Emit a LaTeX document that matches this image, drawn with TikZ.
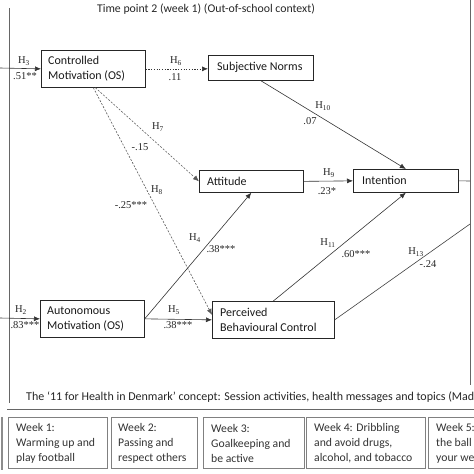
\documentclass[tikz,border=0pt]{standalone}
\usepackage{fontspec}
\setmainfont{Carlito}
\newfontfamily\tnr{Liberation Serif}
\usetikzlibrary{arrows.meta,calc}
\begin{document}
\begin{tikzpicture}[x=1pt,y=-1pt,
 bx/.style={draw=black!85, line width=0.7pt, anchor=north west, inner sep=0pt},
 wk/.style={draw=black!50, line width=1.1pt, anchor=north west, inner sep=0pt, minimum height=51pt},
 txt/.style={anchor=west, align=left, inner sep=0pt, text=black!90, font=\fontsize{12}{15}\selectfont},
 wtxt/.style={anchor=west, align=left, inner sep=0pt, text=black!80, font=\fontsize{11.7}{15}\selectfont},
 arr/.style={draw=black!80, line width=0.6pt, -{Latex[length=6pt,width=5pt]}},
 dotarr/.style={arr, dash pattern=on 1.2pt off 1.5pt},
 dasharr/.style={arr, draw=black!65, dash pattern=on 2pt off 1.5pt},
 plain/.style={draw=black!75, line width=0.6pt},
 lab/.style={font=\tnr\fontsize{10.5}{12}\selectfont, text=black!85, inner sep=0pt},
 frame/.style={draw=black!60, line width=0.7pt}]

\useasboundingbox (0,0) rectangle (474,474);
\clip (0,0) rectangle (474,474);

% title
\node[font=\fontsize{11.8}{14}\selectfont, text=black!85, inner sep=0pt] (title) at (206,9) {Time point 2 (week 1) (Out-of-school context)};

% frame lines
\draw[frame] (9,8) -- (9,403);
\draw[frame] (470,0) -- (470,385);
\draw[frame] (7,409) -- (474,409);
\draw[draw=black!45, line width=1.1pt] (2,417) -- (2,470);

% model boxes
\node[bx, minimum width=104pt, minimum height=37pt] (CM) at (41,50) {};
\node[txt] (CMt) at ($(CM.west)+(7,0)$) {Controlled\\Motivation (OS)};
\node[bx, minimum width=105pt, minimum height=25pt] (SN) at (208,55) {};
\node[txt] (SNt) at ($(SN.west)+(9,0)$) {Subjective Norms};
\node[bx, minimum width=104pt, minimum height=22pt] (AT) at (199,170) {};
\node[txt] (ATt) at ($(AT.west)+(8,0)$) {Attitude};
\node[bx, minimum width=105pt, minimum height=23pt] (IN) at (353,169) {};
\node[txt] (INt) at ($(IN.west)+(9,0)$) {Intention};
\node[bx, minimum width=104pt, minimum height=37pt] (AM) at (40,300) {};
\node[txt] (AMt) at ($(AM.west)+(7,0)$) {Autonomous\\Motivation (OS)};
\node[bx, minimum width=122pt, minimum height=37pt] (PBC) at (212,301) {};
\node[txt] (PBCt) at ($(PBC.west)+(8,0)$) {Perceived\\Behavioural Control};

% connectors
\coordinate (inH3) at (0,68);
\coordinate (inH2) at (0,318);
\coordinate (outI) at (470,181);
\coordinate (outP) at (470,224);
\draw[arr] (inH3) -- (CM.west);
\draw[arr] (inH2) -- (AM.west);
\draw[dotarr] (CM.east) -- (CM.east -| SN.west);
\draw[arr] (SN.south) -- (IN.north);
\draw[dasharr] ($(CM.south)+(2,0)$) -- (AT.west);
\draw[dasharr] (CM.south) -- ($(PBC.west)+(0,-5)$);
\draw[arr] (AT.east) -- (IN.west);
\draw[plain] (IN.east) -- (outI);
\draw[arr] (AM.east) -- (AT.south);
\draw[arr] (AM.east) -- (PBC.west);
\draw[arr] (PBC.north) -- (IN.south);
\draw[plain] (PBC.east) -- (outP);

% labels
\node[lab] (lH3) at (24,61) {H\textsubscript{3}};
\node[lab] (vH3) at (25,76) {.51**};
\node[lab] (lH2) at (21,310) {H\textsubscript{2}};
\node[lab] (vH2) at (25,325) {.83***};
\node[lab] (lH6) at (176,61) {H\textsubscript{6}};
\node[lab] (vH6) at (175,77) {.11};
\node[lab] (lH10) at (323,106) {H\textsubscript{10}};
\node[lab] (vH10) at (310,121) {.07};
\node[lab] (lH7) at (158,127) {H\textsubscript{7}};
\node[lab] (vH7) at (140,147) {-.15};
\node[lab] (lH8) at (157,190) {H\textsubscript{8}};
\node[lab] (vH8) at (131,205) {-.25***};
\node[lab] (lH9) at (329,173) {H\textsubscript{9}};
\node[lab] (vH9) at (327,191) {.23*};
\node[lab] (lH4) at (195,238) {H\textsubscript{4}};
\node[lab] (vH4) at (221,249) {.38***};
\node[lab] (lH5) at (174,310) {H\textsubscript{5}};
\node[lab] (vH5) at (178,325) {.38***};
\node[lab] (lH11) at (328,243) {H\textsubscript{11}};
\node[lab] (vH11) at (356,254) {.60***};
\node[lab] (lH13) at (416,252) {H\textsubscript{13}};
\node[lab] (vH13) at (428,264) {-.24};

% bottom section
\node[anchor=west, inner sep=0pt, text=black!85, font=\fontsize{12}{14}\selectfont] (cap) at (26,397) {The ‘11 for Health in Denmark’ concept: Session activities, health messages and topics (Mad};

\node[wk, minimum width=99pt] (W1) at (8,417) {};
\node[wtxt] (W1t) at ($(W1.west)+(8,0)$) {Week 1:\\Warming up and\\play football};
\node[wk, minimum width=86pt] (W2) at (111,417) {};
\node[wtxt] (W2t) at ($(W2.west)+(7,0)$) {Week 2:\\Passing and\\respect others};
\node[wk, minimum width=101pt] (W3) at (203,417) {};
\node[wtxt] (W3t) at ($(W3.west)+(8,0)$) {Week 3:\\Goalkeeping and\\be active};
\node[wk, minimum width=119pt] (W4) at (306,417) {};
\node[wtxt] (W4t) at ($(W4.west)+(8,0)$) {Week 4: Dribbling\\and avoid drugs,\\alcohol, and tobacco};
\node[wk, minimum width=100pt] (W5) at (428,417) {};
\node[wtxt] (W5t) at ($(W5.west)+(8,0)$) {Week 5:\\the ball\\your we};
\end{tikzpicture}
\end{document}
